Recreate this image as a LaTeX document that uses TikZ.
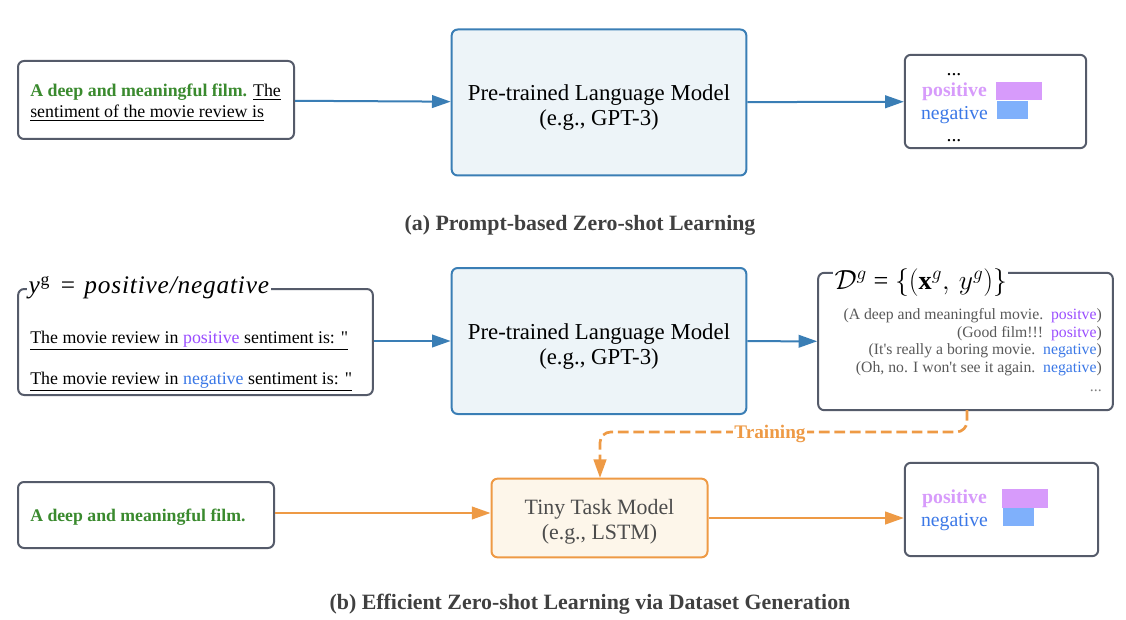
\documentclass[tikz,border=0pt]{standalone}
\usepackage{fontspec}
\setmainfont{Liberation Serif}[Ligatures=TeXOff]
\usepackage{xcolor}
\usetikzlibrary{arrows.meta}

\definecolor{boxgray}{HTML}{555B6A}
\definecolor{modelblue}{HTML}{3A7EB5}
\definecolor{modelfill}{HTML}{EDF4F8}
\definecolor{tinyorange}{HTML}{EE9A45}
\definecolor{tinyfill}{HTML}{FDF6EA}
\definecolor{pospink}{HTML}{D79BFB}
\definecolor{negblue}{HTML}{7FB0FB}
\definecolor{filmgreen}{HTML}{3A8A2E}
\definecolor{pospurple}{HTML}{9A4DFF}
\definecolor{negtext}{HTML}{3B78E7}
\definecolor{captiongray}{HTML}{404040}

\tikzset{
  plain box/.style={draw=boxgray, line width=1.5pt, rounded corners=4.5pt, fill=white, inner sep=0pt},
  model box/.style={draw=modelblue, line width=1.5pt, rounded corners=4.5pt, fill=modelfill,
    minimum width=221pt, minimum height=109.5pt},
  tiny box/.style={draw=tinyorange, line width=1.5pt, rounded corners=4.5pt, fill=tinyfill,
    minimum width=162pt, minimum height=59pt},
  model text/.style={align=center, inner sep=0pt, font=\fontsize{17.1}{18.75}\selectfont},
  tiny text/.style={align=center, inner sep=0pt, text=black!70, font=\fontsize{16.4}{18.75}\selectfont},
  blue arrow/.style={->, draw=modelblue, line width=1.5pt},
  orange arrow/.style={->, draw=tinyorange, line width=1.5pt},
  box title/.style={fill=white, inner sep=1pt, font=\fontsize{19}{21}\selectfont},
  caption/.style={text=captiongray, font=\fontsize{16.4}{18}\selectfont\bfseries},
  box text/.style={font=\fontsize{13.4}{15.75}\selectfont, inner sep=0pt},
  result text/.style={font=\fontsize{14.8}{16}\selectfont, inner sep=0pt},
  sample text/.style={anchor=east, inner sep=0pt, text=black!65, font=\fontsize{11.8}{13}\selectfont},
  bar pos/.style={fill=pospink, inner sep=0pt},
  bar neg/.style={fill=negblue, inner sep=0pt},
}

\begin{document}
\begin{tikzpicture}[x=0.75pt, y=-0.75pt, >={Triangle[length=14pt, width=9.5pt]}]
      \useasboundingbox (0,0) rectangle (1126,620);

      % Prompt-based part
      \node [plain box, minimum width=207pt, minimum height=58.5pt] (prompt) at (156,100) {};
      \node [box text, anchor=west, align=left] (prompt-text) at (30,102.5)
        {\textcolor{filmgreen}{\textbf{A deep and meaningful film.}} \underline{The}\\\underline{sentiment of the movie review is}};
      \node [model box] (model-a) at (599,102.5) {};
      \node [model text] (model-a-text) at (599,107.5) {Pre-trained Language Model\\(e.g., GPT-3)};
      \node [plain box, minimum width=136pt, minimum height=70pt] (result-a) at (995.5,101.5) {};
      \node [result text] (dots-a-top) at (954,75) {...};
      \node [result text, text=pospink, font=\fontsize{14.8}{16}\selectfont\bfseries] (pos-a) at (954.5,92) {positive};
      \node [result text, text=negtext] (neg-a) at (954.5,115) {negative};
      \node [result text] (dots-a-bottom) at (954,141) {...};
      \node [bar pos, minimum width=34.5pt, minimum height=13.5pt] (bar-pos-a) at (1019,91) {};
      \node [bar neg, minimum width=23.25pt, minimum height=13.5pt] (bar-neg-a) at (1012.5,110) {};

      \node [caption] (caption-a) at (580,225) {(a) Prompt-based Zero-shot Learning};

      % Dataset generation part
      \node [plain box, minimum width=266pt, minimum height=79.5pt] (label-prompt) at (195.5,342) {};
      \node [box title, anchor=west] (label-title) at (27,288)
        {\addfontfeature{LetterSpace=3.2}\textit{y}\textsuperscript{g}\hspace{8pt}=\hspace{7pt}\textit{positive/negative}};
      \node [box text, anchor=west] (label-pos) at (30,341)
        {\underline{The movie review in \textcolor{pospurple}{positive} sentiment is: "}};
      \node [box text, anchor=west] (label-neg) at (30,382)
        {\underline{The movie review in \textcolor{negtext}{negative} sentiment is: "}};
      \node [model box] (model-b) at (599,341) {};
      \node [model text] (model-b-text) at (599,347) {Pre-trained Language Model\\(e.g., GPT-3)};
      \node [plain box, minimum width=221pt, minimum height=103pt] (dataset) at (965.5,341.5) {};
      \node [box title, anchor=west, font=\fontsize{19.7}{22}\selectfont] (dataset-title) at (833,283)
        {$\mathcal{D}^{g}$ = $\{(\mathbf{x}^{g},\, y^{g})\}$};

      \foreach \s/\l/\c [count=\y] in {{(A deep and meaningful movie.}/positve/pospurple,
                                       {(Good film!!!}/positve/pospurple,
                                       {(It's really a boring movie.}/negative/negtext,
                                       {(Oh, no. I won't see it again.}/negative/negtext}
        \node [sample text] (sample-\y) at (1102,298+\y*17.7) {\s\ \ \textcolor{\c}{\l})};
      \node [sample text, text=black!50] (sample-dots) at (1102,391) {...};

      \node [plain box, minimum width=192pt, minimum height=49.5pt] (input) at (146,515) {};
      \node [box text, anchor=west, font=\fontsize{13.3}{15}\selectfont\bfseries, text=filmgreen] (input-text) at (30,517) {A deep and meaningful film.};
      \node [tiny box] (tiny) at (599.5,518) {};
      \node [tiny text] (tiny-text) at (599.5,522) {Tiny Task Model\\(e.g., LSTM)};
      \node [plain box, minimum width=145pt, minimum height=70pt] (result-b) at (1001.5,509.5) {};
      \node [result text, text=pospink, font=\fontsize{14.8}{16}\selectfont\bfseries] (pos-b) at (954.5,499) {positive};
      \node [result text, text=negtext] (neg-b) at (954.5,522) {negative};
      \node [bar pos, minimum width=34.5pt, minimum height=14pt] (bar-pos-b) at (1025,498.5) {};
      \node [bar neg, minimum width=23.25pt, minimum height=13.5pt] (bar-neg-b) at (1018.5,516.5) {};

      \node [caption] (caption-b) at (590,604) {(b) Efficient Zero-shot Learning via Dataset Generation};

      % Draw the connecting arrows
      \draw [blue arrow] (prompt) -- (model-a);
      \draw [blue arrow] (model-a) -- (result-a);
      \draw [blue arrow] (label-prompt.east |- model-b) -- (model-b);
      \draw [blue arrow] (model-b) -- (dataset);
      \draw [orange arrow] ([yshift=1.5pt]input.east) -- ([yshift=3.75pt]tiny.west);
      \draw [orange arrow] (tiny) -- (tiny -| result-b.west);

      \coordinate (train-out) at (967,410);
      \coordinate (train-in) at (600,478);
      \draw [orange arrow, line width=2pt, dash pattern=on 8pt off 3.6pt, rounded corners=8pt]
        (train-out) -- (967,432) -- (600,432) -- (train-in);
      \node [fill=white, inner sep=1pt, text=tinyorange, font=\fontsize{14.4}{16}\selectfont\bfseries] (train-label) at (770,433.5) {Training};
    \end{tikzpicture}
\end{document}
